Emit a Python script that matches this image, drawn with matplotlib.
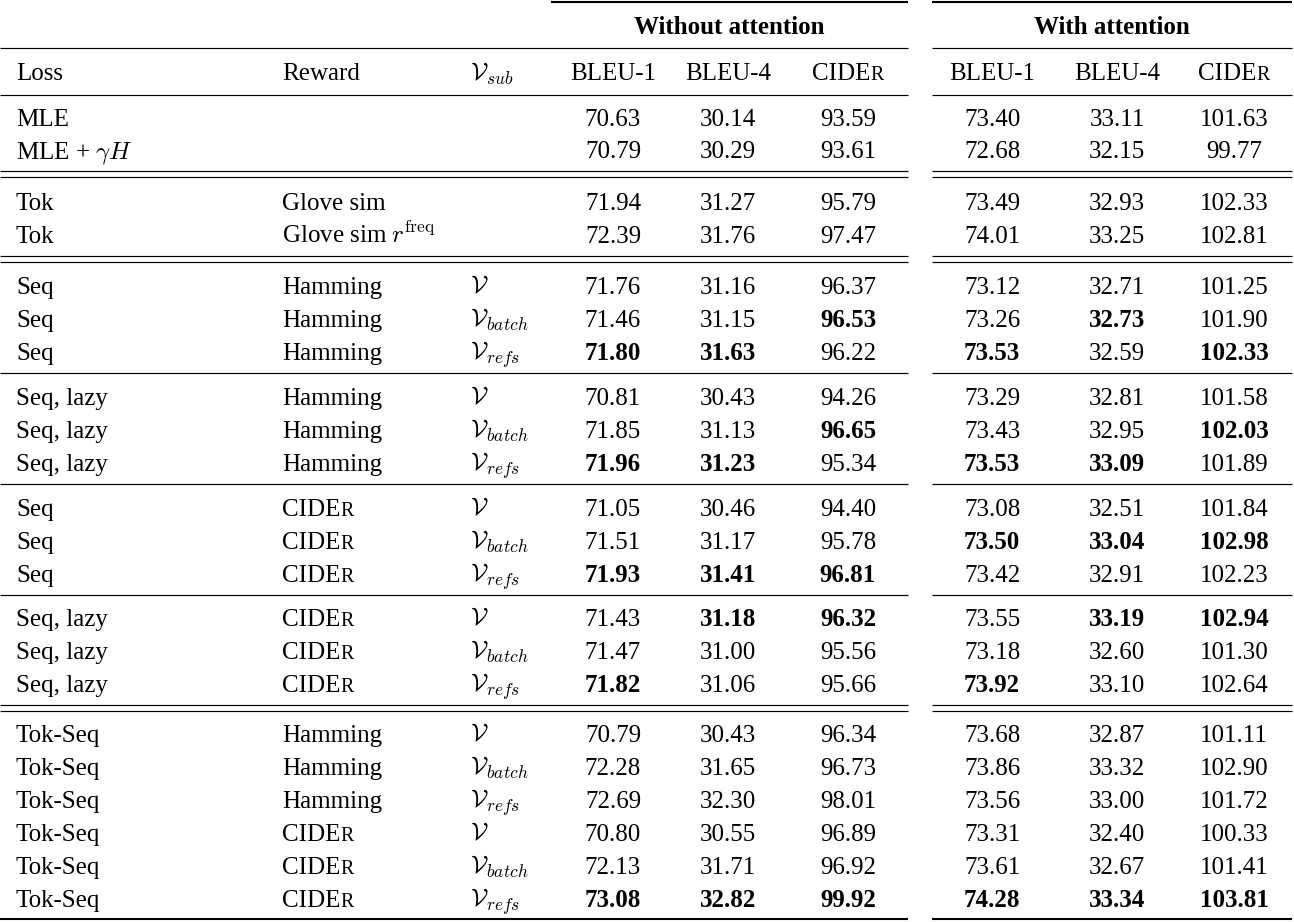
import matplotlib
matplotlib.use("Agg")
import matplotlib.pyplot as plt
from matplotlib import font_manager

serif_name = 'DejaVu Serif'
for f in font_manager.fontManager.ttflist:
    if f.name == 'Liberation Serif':
        serif_name = 'Liberation Serif'
        break
plt.rcParams['font.family'] = 'serif'
plt.rcParams['font.serif'] = [serif_name, 'DejaVu Serif']
plt.rcParams['mathtext.fontset'] = 'cm'

# ---------------- data ----------------
group_labels = ["Without attention", "With attention"]
metric_labels = ["BLEU-1", "BLEU-4", "CIDER"]
col_labels = ["Loss", "Reward", r"$\mathcal{V}_{sub}$"]

loss = ["MLE", r"MLE + $\gamma H$",
        "Tok", "Tok",
        "Seq", "Seq", "Seq",
        "Seq, lazy", "Seq, lazy", "Seq, lazy",
        "Seq", "Seq", "Seq",
        "Seq, lazy", "Seq, lazy", "Seq, lazy",
        "Tok-Seq", "Tok-Seq", "Tok-Seq", "Tok-Seq", "Tok-Seq", "Tok-Seq"]

reward = ["", "",
          "Glove sim", r"Glove sim $r^{\mathrm{freq}}$",
          "Hamming", "Hamming", "Hamming",
          "Hamming", "Hamming", "Hamming",
          "CIDER", "CIDER", "CIDER",
          "CIDER", "CIDER", "CIDER",
          "Hamming", "Hamming", "Hamming", "CIDER", "CIDER", "CIDER"]

vsub = ["", "", "", "",
        "V", "batch", "refs",
        "V", "batch", "refs",
        "V", "batch", "refs",
        "V", "batch", "refs",
        "V", "batch", "refs", "V", "batch", "refs"]

without_attn = [
    [70.63, 30.14, 93.59],
    [70.79, 30.29, 93.61],
    [71.94, 31.27, 95.79],
    [72.39, 31.76, 97.47],
    [71.76, 31.16, 96.37],
    [71.46, 31.15, 96.53],
    [71.80, 31.63, 96.22],
    [70.81, 30.43, 94.26],
    [71.85, 31.13, 96.65],
    [71.96, 31.23, 95.34],
    [71.05, 30.46, 94.40],
    [71.51, 31.17, 95.78],
    [71.93, 31.41, 96.81],
    [71.43, 31.18, 96.32],
    [71.47, 31.00, 95.56],
    [71.82, 31.06, 95.66],
    [70.79, 30.43, 96.34],
    [72.28, 31.65, 96.73],
    [72.69, 32.30, 98.01],
    [70.80, 30.55, 96.89],
    [72.13, 31.71, 96.92],
    [73.08, 32.82, 99.92],
]

with_attn = [
    [73.40, 33.11, 101.63],
    [72.68, 32.15, 99.77],
    [73.49, 32.93, 102.33],
    [74.01, 33.25, 102.81],
    [73.12, 32.71, 101.25],
    [73.26, 32.73, 101.90],
    [73.53, 32.59, 102.33],
    [73.29, 32.81, 101.58],
    [73.43, 32.95, 102.03],
    [73.53, 33.09, 101.89],
    [73.08, 32.51, 101.84],
    [73.50, 33.04, 102.98],
    [73.42, 32.91, 102.23],
    [73.55, 33.19, 102.94],
    [73.18, 32.60, 101.30],
    [73.92, 33.10, 102.64],
    [73.68, 32.87, 101.11],
    [73.86, 33.32, 102.90],
    [73.56, 33.00, 101.72],
    [73.31, 32.40, 100.33],
    [73.61, 32.67, 101.41],
    [74.28, 33.34, 103.81],
]

bold_without = [
    [0, 0, 0], [0, 0, 0],
    [0, 0, 0], [0, 0, 0],
    [0, 0, 0], [0, 0, 1], [1, 1, 0],
    [0, 0, 0], [0, 0, 1], [1, 1, 0],
    [0, 0, 0], [0, 0, 0], [1, 1, 1],
    [0, 1, 1], [0, 0, 0], [1, 0, 0],
    [0, 0, 0], [0, 0, 0], [0, 0, 0], [0, 0, 0], [0, 0, 0], [1, 1, 1],
]
bold_with = [
    [0, 0, 0], [0, 0, 0],
    [0, 0, 0], [0, 0, 0],
    [0, 0, 0], [0, 1, 0], [1, 0, 1],
    [0, 0, 0], [0, 0, 1], [1, 1, 0],
    [0, 0, 0], [1, 1, 1], [0, 0, 0],
    [0, 1, 1], [0, 0, 0], [1, 0, 0],
    [0, 0, 0], [0, 0, 0], [0, 0, 0], [0, 0, 0], [0, 0, 0], [1, 1, 1],
]

# ---------------- layout ----------------
W, H = 1294, 922
FS = 18
fig = plt.figure(figsize=(W / 100, H / 100), dpi=100)
ax = fig.add_axes([0, 0, 1, 1])
ax.set_xlim(0, W)
ax.set_ylim(H, 0)
ax.axis('off')
renderer = fig.canvas.get_renderer()

row_base = [125.5, 158.5,
            209.5, 242.5,
            293.5, 326.5, 359.5,
            404.5, 437.5, 470.5,
            515.5, 548.5, 581.5,
            625.5, 658.5, 691.5,
            741.5, 774.5, 807.5, 840.5, 873.5, 906.5]
header_base = 80.5
group_base = 33.5

x_loss, x_reward, x_vsub = 16, 282, 470
x_without = [613, 728, 848]
x_with = [992, 1117, 1234]
seg_left = (0, 908)
seg_right = (932, 1292)


def put(x, y, s, ha='left', weight='normal', fs=FS):
    return ax.text(x, y, s, fontsize=fs, ha=ha, va='baseline',
                   fontweight=weight, color='black')


def width_of(s, fs, weight='normal'):
    t = ax.text(0, 0, s, fontsize=fs, fontweight=weight)
    w = t.get_window_extent(renderer).width
    t.remove()
    return w


def draw_cider(x, y, ha='center', fs=FS):
    small = fs * 0.8
    w1 = width_of("CIDE", fs)
    w2 = width_of("R", small)
    x0 = x - (w1 + w2) / 2 if ha == 'center' else x
    put(x0, y, "CIDE", fs=fs)
    put(x0 + w1, y, "R", fs=small)


def draw_label(s, x, y, ha='left'):
    if s == "CIDER":
        draw_cider(x, y, ha=ha)
    else:
        put(x, y, s, ha=ha)


def vsub_tex(v):
    if v == "V":
        return r"$\mathcal{V}$"
    return r"$\mathcal{V}_{%s}$" % v


def rule(y, lw):
    ax.hlines(y, seg_left[0], seg_left[1], color='black', lw=lw)
    ax.hlines(y, seg_right[0], seg_right[1], color='black', lw=lw)

thick, thin = 1.5, 0.85
ax.hlines(2.5, 551, seg_left[1], color='black', lw=thick)
ax.hlines(2.5, seg_right[0], seg_right[1], color='black', lw=thick)
rule(48.5, thin)
rule(95.5, thin)
for y in [171, 177, 256.5, 262.5, 373, 483.5, 594.5, 705, 711]:
    rule(y, thin)
rule(919, thick)

put(729, group_base, group_labels[0], ha='center', weight='bold')
put(1112, group_base, group_labels[1], ha='center', weight='bold')

put(x_loss, header_base, col_labels[0])
put(x_reward, header_base, col_labels[1])
put(x_vsub, header_base, col_labels[2])
for xs in (x_without, x_with):
    for x, m in zip(xs, metric_labels):
        draw_label(m, x, header_base, ha='center')

for i, y in enumerate(row_base):
    put(x_loss, y, loss[i])
    if reward[i]:
        draw_label(reward[i], x_reward, y, ha='left')
    if vsub[i]:
        put(x_vsub, y, vsub_tex(vsub[i]))
    for xs, vals, bolds in ((x_without, without_attn[i], bold_without[i]),
                            (x_with, with_attn[i], bold_with[i])):
        for x, v, b in zip(xs, vals, bolds):
            put(x, y, f"{v:.2f}", ha='center', weight='bold' if b else 'normal')

fig.savefig("out.png", dpi=100)
